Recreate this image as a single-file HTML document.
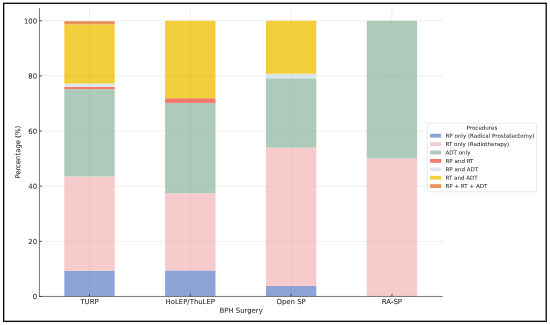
<!DOCTYPE html>
<html lang="en">
<head>
<meta charset="utf-8">
<title>BPH Surgery Procedures</title>
<style>
html,body{margin:0;padding:0;background:#fff;}
body{width:550px;height:325px;overflow:hidden;}
svg{display:block;}
text{text-rendering:geometricPrecision;font-family:"DejaVu Sans","Liberation Sans",sans-serif;fill:#262626;stroke:#262626;stroke-width:0.06px;}
.t{font-size:6.9px;}
.l{font-size:5.56px;stroke-width:0.03px;}
</style>
</head>
<body>
<svg width="550" height="325" viewBox="0 0 550 325">
<rect x="0" y="0" width="550" height="325" fill="#ffffff"/>
<rect x="3.65" y="3.3" width="542.6" height="318.05" fill="none" stroke="#0c0c0c" stroke-width="1.35"/>
<g stroke="#e2e2e2" stroke-width="0.6" fill="none">
<line x1="39.45" y1="241.31" x2="442.8" y2="241.31"/>
<line x1="39.45" y1="186.17" x2="442.8" y2="186.17"/>
<line x1="39.45" y1="131.03" x2="442.8" y2="131.03"/>
<line x1="39.45" y1="75.89" x2="442.8" y2="75.89"/>
<line x1="39.45" y1="20.75" x2="442.8" y2="20.75"/>
<line x1="89.50" y1="8.2" x2="89.50" y2="296.45"/>
<line x1="190.30" y1="8.2" x2="190.30" y2="296.45"/>
<line x1="291.10" y1="8.2" x2="291.10" y2="296.45"/>
<line x1="391.90" y1="8.2" x2="391.90" y2="296.45"/>
</g>
<g>
<rect x="64.30" y="270.81" width="50.40" height="25.64" fill="#8fa4d6"/>
<rect x="64.30" y="176.52" width="50.40" height="94.29" fill="#f7cbcb"/>
<rect x="64.30" y="89.12" width="50.40" height="87.40" fill="#adcbba"/>
<rect x="64.30" y="86.92" width="50.40" height="2.21" fill="#f4796b"/>
<rect x="64.30" y="83.61" width="50.40" height="3.31" fill="#dde7ef"/>
<rect x="64.30" y="24.33" width="50.40" height="59.28" fill="#f3ce3c"/>
<rect x="64.30" y="21.16" width="50.40" height="3.17" fill="#e9925a"/>
<rect x="165.10" y="270.40" width="50.40" height="26.05" fill="#8fa4d6"/>
<rect x="165.10" y="193.34" width="50.40" height="77.06" fill="#f7cbcb"/>
<rect x="165.10" y="102.91" width="50.40" height="90.43" fill="#adcbba"/>
<rect x="165.10" y="98.22" width="50.40" height="4.69" fill="#f4796b"/>
<rect x="165.10" y="20.75" width="50.40" height="77.47" fill="#f3ce3c"/>
<rect x="265.90" y="285.86" width="50.40" height="10.59" fill="#8fa4d6"/>
<rect x="265.90" y="147.65" width="50.40" height="138.21" fill="#f7cbcb"/>
<rect x="265.90" y="78.23" width="50.40" height="69.42" fill="#adcbba"/>
<rect x="265.90" y="73.82" width="50.40" height="4.41" fill="#dde7ef"/>
<rect x="265.90" y="20.75" width="50.40" height="53.07" fill="#f3ce3c"/>
<rect x="366.70" y="158.60" width="50.40" height="137.85" fill="#f7cbcb"/>
<rect x="366.70" y="20.75" width="50.40" height="137.85" fill="#adcbba"/>
</g>
<g stroke="#000" stroke-opacity="0.06" stroke-width="0.6" fill="none">
<line x1="89.50" y1="20.75" x2="89.50" y2="296.45"/>
<line x1="64.30" y1="241.31" x2="114.70" y2="241.31"/>
<line x1="64.30" y1="186.17" x2="114.70" y2="186.17"/>
<line x1="64.30" y1="131.03" x2="114.70" y2="131.03"/>
<line x1="64.30" y1="75.89" x2="114.70" y2="75.89"/>
<line x1="190.30" y1="20.75" x2="190.30" y2="296.45"/>
<line x1="165.10" y1="241.31" x2="215.50" y2="241.31"/>
<line x1="165.10" y1="186.17" x2="215.50" y2="186.17"/>
<line x1="165.10" y1="131.03" x2="215.50" y2="131.03"/>
<line x1="165.10" y1="75.89" x2="215.50" y2="75.89"/>
<line x1="291.10" y1="20.75" x2="291.10" y2="296.45"/>
<line x1="265.90" y1="241.31" x2="316.30" y2="241.31"/>
<line x1="265.90" y1="186.17" x2="316.30" y2="186.17"/>
<line x1="265.90" y1="131.03" x2="316.30" y2="131.03"/>
<line x1="265.90" y1="75.89" x2="316.30" y2="75.89"/>
<line x1="391.90" y1="20.75" x2="391.90" y2="296.45"/>
<line x1="366.70" y1="241.31" x2="417.10" y2="241.31"/>
<line x1="366.70" y1="186.17" x2="417.10" y2="186.17"/>
<line x1="366.70" y1="131.03" x2="417.10" y2="131.03"/>
<line x1="366.70" y1="75.89" x2="417.10" y2="75.89"/>
</g>
<g stroke="#555" stroke-width="0.8" fill="none">
<line x1="39.45" y1="8.2" x2="39.45" y2="296.9"/>
<line x1="39.0" y1="296.45" x2="442.8" y2="296.45"/>
</g>
<g stroke="#333" stroke-width="0.8" fill="none">
<line x1="39.45" y1="296.45" x2="41.95" y2="296.45"/>
<line x1="39.45" y1="241.31" x2="41.95" y2="241.31"/>
<line x1="39.45" y1="186.17" x2="41.95" y2="186.17"/>
<line x1="39.45" y1="131.03" x2="41.95" y2="131.03"/>
<line x1="39.45" y1="75.89" x2="41.95" y2="75.89"/>
<line x1="39.45" y1="20.75" x2="41.95" y2="20.75"/>
<line x1="89.50" y1="296.45" x2="89.50" y2="293.95"/>
<line x1="190.30" y1="296.45" x2="190.30" y2="293.95"/>
<line x1="291.10" y1="296.45" x2="291.10" y2="293.95"/>
<line x1="391.90" y1="296.45" x2="391.90" y2="293.95"/>
</g>
<g class="t" text-anchor="end">
<text class="t" x="37.1" y="299.10" transform="rotate(0.03 37.1 299.10)">0</text>
<text class="t" x="37.1" y="243.96" transform="rotate(0.03 37.1 243.96)">20</text>
<text class="t" x="37.1" y="188.82" transform="rotate(0.03 37.1 188.82)">40</text>
<text class="t" x="37.1" y="133.68" transform="rotate(0.03 37.1 133.68)">60</text>
<text class="t" x="37.1" y="78.54" transform="rotate(0.03 37.1 78.54)">80</text>
<text class="t" x="37.1" y="23.40" transform="rotate(0.03 37.1 23.40)">100</text>
</g>
<g class="t" text-anchor="middle">
<text class="t" x="89.50" y="303.9" transform="rotate(0.03 89.50 303.9)">TURP</text>
<text class="t" x="190.30" y="303.9" transform="rotate(0.03 190.30 303.9)">HoLEP/ThuLEP</text>
<text class="t" x="291.10" y="303.9" transform="rotate(0.03 291.10 303.9)">Open SP</text>
<text class="t" x="391.90" y="303.9" transform="rotate(0.03 391.90 303.9)">RA-SP</text>
<text class="t" x="241.12" y="312.8" transform="rotate(0.03 241.12 312.8)">BPH Surgery</text>
<text class="t" transform="translate(20.3 152.32) rotate(-89.97)">Percentage (%)</text>
</g>
<rect x="427.3" y="123.3" width="109.3" height="68.5" rx="1.1" ry="1.1" fill="#ffffff" fill-opacity="0.8" stroke="#d8d8d8" stroke-width="0.6"/>
<text class="l" text-anchor="middle" x="481.95" y="129.7" transform="rotate(0.03 481.95 129.7)">Procedures</text>
<rect x="430.1" y="133.80" width="11.1" height="3.8" fill="#8fa4d6"/>
<text class="l" x="445.5" y="137.70" transform="rotate(0.03 445.5 137.70)">RP only (Radical Prostatectomy)</text>
<rect x="430.1" y="142.20" width="11.1" height="3.8" fill="#f7cbcb"/>
<text class="l" x="445.5" y="146.10" transform="rotate(0.03 445.5 146.10)">RT only (Radiotherapy)</text>
<rect x="430.1" y="150.60" width="11.1" height="3.8" fill="#adcbba"/>
<text class="l" x="445.5" y="154.50" transform="rotate(0.03 445.5 154.50)">ADT only</text>
<rect x="430.1" y="159.00" width="11.1" height="3.8" fill="#f4796b"/>
<text class="l" x="445.5" y="162.90" transform="rotate(0.03 445.5 162.90)">RP and RT</text>
<rect x="430.1" y="167.40" width="11.1" height="3.8" fill="#dde7ef"/>
<text class="l" x="445.5" y="171.30" transform="rotate(0.03 445.5 171.30)">RP and ADT</text>
<rect x="430.1" y="175.80" width="11.1" height="3.8" fill="#f3ce3c"/>
<text class="l" x="445.5" y="179.70" transform="rotate(0.03 445.5 179.70)">RT and ADT</text>
<rect x="430.1" y="184.20" width="11.1" height="3.8" fill="#e9925a"/>
<text class="l" x="445.5" y="188.10" transform="rotate(0.03 445.5 188.10)">RP + RT + ADT</text>
</svg>
</body>
</html>
